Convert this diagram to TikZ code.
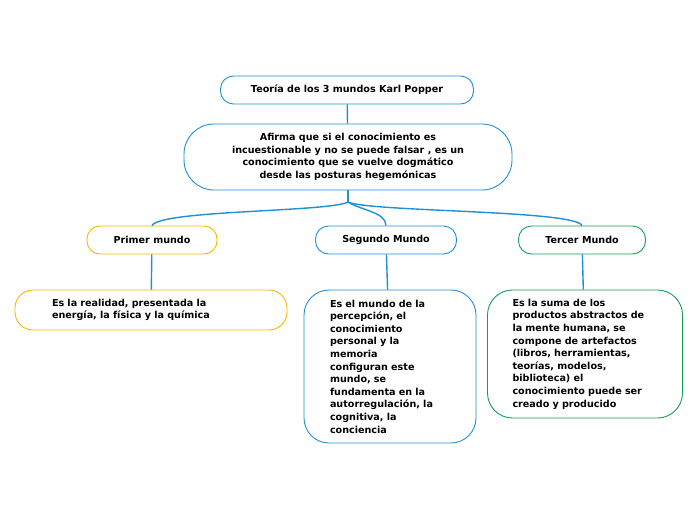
\documentclass[tikz,border=0pt]{standalone}
\usepackage{fontspec}
\setmainfont{DejaVu Sans}
\definecolor{bl}{HTML}{1E90D8}
\definecolor{og}{HTML}{F5B800}
\definecolor{gr}{HTML}{14A050}
\begin{document}
\begin{tikzpicture}[x=1pt,y=-1pt,
 box/.style={draw=#1,line width=0.9pt,fill=white,font=\bfseries\fontsize{9.6}{12.6}\selectfont},
 con/.style={draw=bl,line width=1.4pt}]
\useasboundingbox (0,0) rectangle (696,520);
\node[box=bl,rounded corners=13,minimum width=253,minimum height=28] (t) at (347,90) {Teoría de los 3 mundos Karl Popper};
\node[box=bl,rounded corners=30,minimum width=328,minimum height=66,align=center] (m) at (348,157) {Afirma que si el conocimiento es\\incuestionable y no se puede falsar , es un\\conocimiento que se vuelve dogmático\\desde las posturas hegemónicas};
\node[box=og,rounded corners=13,minimum width=130,minimum height=28] (p) at (152,240) {Primer mundo};
\node[box=bl,rounded corners=13,minimum width=141,minimum height=28] (s) at (386,240) {Segundo Mundo};
\node[box=gr,rounded corners=13,minimum width=127,minimum height=28] (c) at (582,240) {Tercer Mundo};
\node[box=og,rounded corners=18,minimum width=272,minimum height=40,align=left,text width=258,inner sep=0pt] (b1) at (151,310) {\hspace*{30pt}Es la realidad, presentada la\\\hspace*{30pt}energía, la física y la química};
\node[box=bl,rounded corners=25,minimum width=172,minimum height=153,align=left,text width=120,inner sep=0pt] (b2) at (390,366.5) {Es el mundo de la\\percepción, el\\conocimiento\\personal y la\\memoria\\configuran este\\mundo, se\\fundamenta en la\\autorregulación, la\\cognitiva, la\\conciencia};
\node[box=gr,rounded corners=25,minimum width=195,minimum height=128,align=left,text width=145,inner sep=0pt] (b3) at (585,354) {Es la suma de los\\productos abstractos de\\la mente humana, se\\compone de artefactos\\(libros, herramientas,\\teorías, modelos,\\biblioteca) el\\conocimiento puede ser\\creado y producido};
\draw[con] (t) -- (m);
\coordinate (j) at (348,202);
\draw[con] (m.south) -- (j);
\draw[con] (j) .. controls (330,212) and (160,210) .. (p.north);
\draw[con] (j) .. controls (360,210) and (386,212) .. (s.north);
\draw[con] (j) .. controls (370,212) and (575,210) .. (c.north);
\draw[con] (p) -- (b1);
\draw[con] (s) -- (b2);
\draw[con] (c) -- (b3);
\end{tikzpicture}
\end{document}
